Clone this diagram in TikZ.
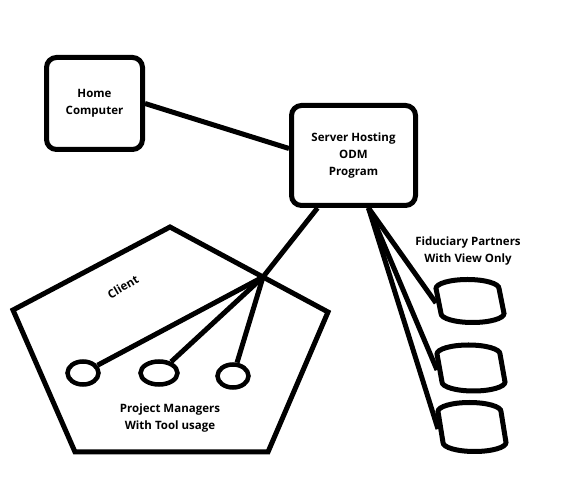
\documentclass[tikz,border=0pt]{standalone}
\usepackage{fontspec}
\setmainfont{Open Sans}
\usetikzlibrary{shapes.geometric,calc}
\tikzset{
	box/.style={draw,line width=5pt,rounded corners=10pt,align=center,font=\bfseries\fontsize{11.5}{17}\selectfont},
	pm/.style={draw,ellipse,line width=4.5pt,inner sep=0pt,minimum height=23pt},
	fid/.style={inner sep=0pt,minimum width=63pt,minimum height=38pt},
	lbl/.style={align=center,font=\bfseries\fontsize{11.5}{17}\selectfont}
}
\begin{document}
\begin{tikzpicture}[x=1pt,y=1pt,line width=5pt]
		\useasboundingbox (0,0) rectangle (570,500);
		\node[box,minimum width=96pt,minimum height=92pt] (home) at (94.5,396.5) {Home\\Computer};
		\node[box,minimum width=124pt,minimum height=100pt] (server) at (353.5,344.5) {Server Hosting\\ODM\\Program};
		\draw (home.east) -- ([yshift=7pt]server.west);
		\draw[line join=miter] (170,273) -- (328,188) -- (268,48) -- (75,48) -- (13,190) -- cycle;
		\node[lbl,rotate=30] (client) at (123,213) {Client};
		\coordinate (hub) at (263,223);
		\node[pm,minimum width=31pt] (pm1) at (83,127) {};
		\node[pm,minimum width=37pt] (pm2) at (159,127) {};
		\node[pm,minimum width=31pt] (pm3) at (233,124) {};
		\draw ([xshift=-36pt]server.south) -- (hub);
		\foreach \p in {pm1,pm2,pm3}
			\draw (hub) -- (\p);
		\node[lbl] (pmtext) at (170,82) {Project Managers\\With Tool usage};
		\node[fid] (fid1) at (470,199) {};
		\node[fid,minimum height=41pt] (fid2) at (471,132) {};
		\node[fid,minimum height=44pt] (fid3) at (472,73) {};
		\foreach \f in {fid1,fid2,fid3}{
			\draw ([yshift=-9pt]\f.north west) arc[start angle=180,end angle=0,x radius=31.5pt,y radius=9pt]
				-- ([yshift=9pt]\f.south east) arc[start angle=0,end angle=-180,x radius=31.5pt,y radius=9pt] -- cycle;
			\draw ([xshift=15pt]server.south) -- ([yshift=-2pt]\f.west);
		}
		\node[lbl] (fidtext) at (468,249) {Fiduciary Partners\\With View Only};
	\end{tikzpicture}
\end{document}
